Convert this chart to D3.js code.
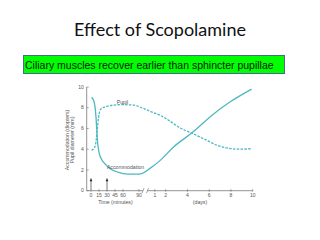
<!DOCTYPE html>
<html>
<head>
<meta charset="utf-8">
<script src="https://cdn.jsdelivr.net/npm/d3@7"></script>
<style>
  body { margin: 0; background: #fff; }
  svg { display: block; }
  .tick-label { font-family: "Liberation Sans", Arial, sans-serif; font-size: 5px; fill: #555; }
  .axis-title { font-family: "Liberation Sans", Arial, sans-serif; font-size: 5.2px; fill: #555; }
</style>
</head>
<body>
<div id="graphic"></div>
<script>
// title and note
const titleText = 'Effect of Scopolamine';
const noteText = 'Ciliary muscles recover earlier than sphincter pupillae';

// tick labels
const minuteTicks = [0, 15, 30, 45, 60, 90];
const dayTicks = [1, 2, 4, 6, 8, 10];
const yTicks = [0, 2, 4, 6, 8, 10];
const drugMinutes = [0, 30]; // arrows: doses given

// accommodation (diopters): [time, value]
const accomMinutes = [[1, 9.0], [5, 8.7], [7.5, 8.1], [9.5, 7.0], [11, 5.7], [12.5, 4.6], [15.5, 3.6], [19, 3.1], [25, 2.65], [34, 2.2], [50, 1.8], [70, 1.6], [85, 1.6], [95, 1.65]];
const accomDays = [[0.55, 2.15], [1.47, 2.9], [2.7, 4.2], [4.5, 5.65], [6.4, 7.4], [7.9, 8.55], [9.9, 9.8]];

// pupil diameter (mm): [time, value]
const pupilMinutes = [[1, 3.9], [6, 4.1], [9.4, 4.75], [11, 5.5], [12.5, 6.3], [14, 7.0], [18.75, 7.9], [31, 8.15], [56, 8.3], [81, 8.25], [95, 8.0]];
const pupilDays = [[0.55, 7.66], [1.47, 7.28], [2.4, 6.7], [3.3, 6.06], [4.5, 5.5], [5.75, 4.87], [6.67, 4.4], [7.6, 4.13], [8.8, 4.0], [9.9, 4.05]];

const width = 320, height = 240;
const lineColour = '#4db8c2';

const svg = d3.select('#graphic').append('svg')
  .attr('width', width)
  .attr('height', height);

// title
svg.append('text')
  .attr('x', 160).attr('y', 36)
  .attr('text-anchor', 'middle')
  .style('font-family', 'Lato, "Open Sans", sans-serif')
  .style('font-size', '18px')
  .style('fill', '#111')
  .text(titleText);

// green note box
svg.append('rect')
  .attr('x', 23.5).attr('y', 55.5)
  .attr('width', 261).attr('height', 18)
  .attr('fill', '#00ff00')
  .attr('stroke', '#3f6f8a')
  .attr('stroke-width', 1);

svg.append('text')
  .attr('x', 25).attr('y', 68.5)
  .style('font-family', '"Liberation Sans", Arial, sans-serif')
  .style('font-size', '10.5px')
  .style('fill', '#111')
  .text(noteText);

// scales: minutes and days share one broken axis
const xMin = d3.scaleLinear().domain([0, 90]).range([91, 139]);
const xDay = d3.scaleLinear().domain([0, 10]).range([144, 252.7]);
const y = d3.scaleLinear().domain([0, 10]).range([190.7, 87]);

const axisX0 = 86.7, axisY0 = y(0);

// y axis
svg.append('line')
  .attr('x1', axisX0).attr('x2', axisX0)
  .attr('y1', y(10)).attr('y2', axisY0)
  .attr('stroke', '#666').attr('stroke-width', 0.7);

yTicks.forEach(v => {
  svg.append('line')
    .attr('x1', axisX0).attr('x2', axisX0 + 2)
    .attr('y1', y(v)).attr('y2', y(v))
    .attr('stroke', '#666').attr('stroke-width', 0.6);
  svg.append('text')
    .attr('class', 'tick-label')
    .attr('x', axisX0 - 3).attr('y', y(v) + 1.7)
    .attr('text-anchor', 'end')
    .text(v);
});

// y axis titles
svg.append('text')
  .attr('class', 'axis-title')
  .attr('transform', `translate(68.5, 140) rotate(-90)`)
  .attr('text-anchor', 'middle')
  .text('Accommodation (diopters)');
svg.append('text')
  .attr('class', 'axis-title')
  .attr('transform', `translate(74, 140) rotate(-90)`)
  .attr('text-anchor', 'middle')
  .text('Pupil diameter (mm)');

// x axis with break
const breakL = 143, breakR = 147.5;
svg.append('line')
  .attr('x1', axisX0).attr('x2', breakL)
  .attr('y1', axisY0).attr('y2', axisY0)
  .attr('stroke', '#666').attr('stroke-width', 0.7);
svg.append('line')
  .attr('x1', breakR).attr('x2', xDay(10))
  .attr('y1', axisY0).attr('y2', axisY0)
  .attr('stroke', '#666').attr('stroke-width', 0.7);
[breakL, breakR].forEach(bx => {
  svg.append('line')
    .attr('x1', bx - 1).attr('x2', bx + 1)
    .attr('y1', axisY0 + 2.5).attr('y2', axisY0 - 2.5)
    .attr('stroke', '#666').attr('stroke-width', 0.6);
});

function xTick(px, label) {
  svg.append('line')
    .attr('x1', px).attr('x2', px)
    .attr('y1', axisY0 - 1.5).attr('y2', axisY0 + 1)
    .attr('stroke', '#666').attr('stroke-width', 0.6);
  svg.append('text')
    .attr('class', 'tick-label')
    .attr('x', px).attr('y', axisY0 + 6.5)
    .attr('text-anchor', 'middle')
    .text(label);
}
minuteTicks.forEach(t => xTick(xMin(t), t));
dayTicks.forEach(t => xTick(xDay(t), t));

svg.append('text')
  .attr('class', 'axis-title')
  .attr('x', 115.5).attr('y', axisY0 + 13)
  .attr('text-anchor', 'middle')
  .text('Time (minutes)');
svg.append('text')
  .attr('class', 'axis-title')
  .attr('x', 200).attr('y', axisY0 + 13)
  .attr('text-anchor', 'middle')
  .text('(days)');

// dose arrows
drugMinutes.forEach(t => {
  const ax = xMin(t);
  svg.append('line')
    .attr('x1', ax).attr('x2', ax)
    .attr('y1', axisY0 - 1).attr('y2', axisY0 - 10)
    .attr('stroke', '#222').attr('stroke-width', 0.6);
  svg.append('path')
    .attr('d', `M${ax - 1.3},${axisY0 - 9.5} L${ax},${axisY0 - 13} L${ax + 1.3},${axisY0 - 9.5} Z`)
    .attr('fill', '#222');
});

// curves
function toPixels(minutes, days) {
  return minutes.map(d => [xMin(d[0]), y(d[1])])
    .concat(days.map(d => [xDay(d[0]), y(d[1])]));
}
const line = d3.line().curve(d3.curveMonotoneX);

svg.append('path')
  .attr('d', line(toPixels(accomMinutes, accomDays)))
  .attr('fill', 'none')
  .attr('stroke', lineColour)
  .attr('stroke-width', 1.3);

svg.append('path')
  .attr('d', line(toPixels(pupilMinutes, pupilDays)))
  .attr('fill', 'none')
  .attr('stroke', lineColour)
  .attr('stroke-width', 1.3)
  .attr('stroke-dasharray', '2.5,1.3');

// curve labels
svg.append('text')
  .attr('class', 'axis-title')
  .attr('x', 122.5).attr('y', 103.5)
  .attr('text-anchor', 'middle')
  .text('Pupil');
svg.append('text')
  .attr('class', 'axis-title')
  .attr('x', 125.5).attr('y', 168.5)
  .attr('text-anchor', 'middle')
  .text('Accommodation');
</script>
</body>
</html>
